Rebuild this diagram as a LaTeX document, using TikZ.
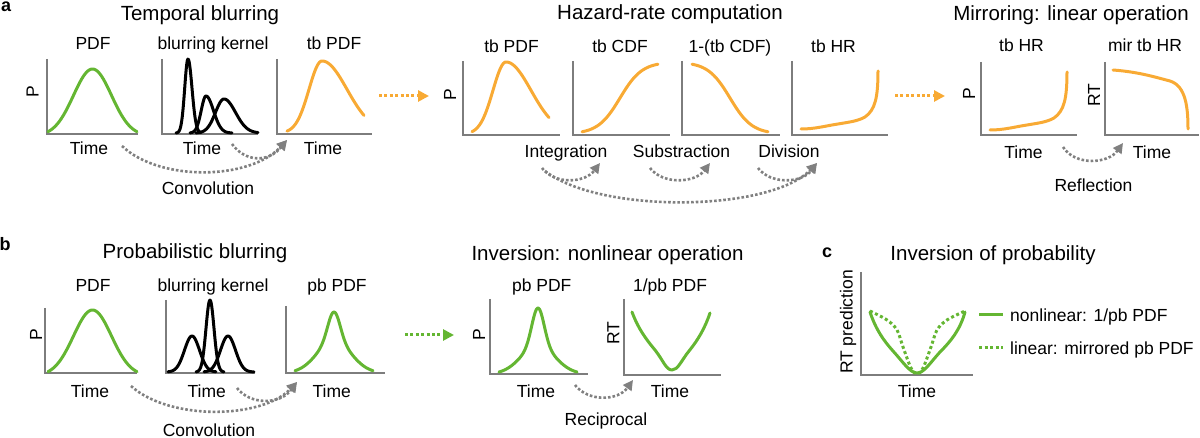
\documentclass[tikz,border=0pt]{standalone}
\usepackage{fontspec}
\setmainfont{Liberation Sans}
\usetikzlibrary{arrows.meta}
\definecolor{cgreen}{RGB}{100,182,50}
\definecolor{corange}{RGB}{248,170,52}
\definecolor{cgray}{RGB}{128,128,128}
\definecolor{caxis}{RGB}{125,125,125}
\begin{document}
\begin{tikzpicture}[x=1pt,y=-1pt,
  declare function={gs(\x,\m,\s)=exp(-0.5*((\x-\m)/\s)^2);
                    ags(\x,\m,\l,\r)=exp(-0.5*((\x-\m)/((\x<\m)?\l:\r))^2);},
  axis/.style={draw=caxis,line width=1.4pt},
  gcurve/.style={draw=cgreen,line width=3pt,line cap=round,line join=round},
  ocurve/.style={draw=corange,line width=3pt,line cap=round,line join=round},
  kcurve/.style={draw=black,line width=3pt,line cap=round,line join=round},
  gdots/.style={draw=cgreen,line width=3pt,dash pattern=on 3pt off 2.6pt},
  lbl/.style={font=\fontsize{17.5}{20}\selectfont,anchor=base,inner sep=0pt},
  ttl/.style={font=\fontsize{20.5}{24}\selectfont,anchor=base,inner sep=0pt},
  ylbl/.style={font=\fontsize{17.5}{20}\selectfont,rotate=90,inner sep=0pt},
  panel/.style={font=\fontsize{18}{20}\selectfont\bfseries,inner sep=0pt},
  op/.style={draw=cgray,line width=2.6pt,dash pattern=on 2.6pt off 2pt,
             -{Triangle[length=10pt,width=10pt]}},
  oarrow/.style={draw=corange,line width=3pt,dash pattern=on 3pt off 2.4pt,
             -{Triangle[length=11pt,width=11pt]}},
  garrow/.style={draw=cgreen,line width=3pt,dash pattern=on 3pt off 2.4pt,
             -{Triangle[length=11pt,width=11pt]}},
]
\useasboundingbox (0,0) rectangle (1200,438);

% ================= panel a =================
\node[panel,anchor=base west] (pa) at (1,12) {a};
\node[ttl] (ta1) at (200,21) {Temporal blurring};
\node[ttl] (ta2) at (670,20) {Hazard-rate computation};
\node[ttl] (ta3) at (1071,21) {Mirroring: linear operation};

% plot frames
\draw[axis] (47,59) -- (47,134) -- (138,134);
\draw[axis] (162,59) -- (162,134) -- (258,134);
\draw[axis] (277,59) -- (277,134) -- (372,134);
\draw[axis] (463,61) -- (463,135) -- (560,135);
\draw[axis] (573,61) -- (573,135) -- (670,135);
\draw[axis] (682,61) -- (682,135) -- (780,135);
\draw[axis] (792,61) -- (792,135) -- (888,135);
\draw[axis] (981,62) -- (981,135) -- (1077,135);
\draw[axis] (1105,62) -- (1105,135) -- (1199,135);

% labels
\node[lbl] (la1) at (93,50) {PDF};
\node[lbl] (la2) at (213,50) {blurring kernel};
\node[lbl] (la3) at (334,50) {tb PDF};
\node[lbl] (la4) at (511.5,53) {tb PDF};
\node[lbl] (la5) at (620,53) {tb CDF};
\node[lbl] (la6) at (730,53) {1-(tb CDF)};
\node[lbl] (la7) at (833.5,53) {tb HR};
\node[lbl] (la8) at (1021.5,52) {tb HR};
\node[lbl] (la9) at (1145,52) {mir tb HR};
\node[ylbl] (ya1) at (32.5,92) {P};
\node[ylbl] (ya4) at (450,95) {P};
\node[ylbl] (ya8) at (969,94) {P};
\node[ylbl] (ya9) at (1094,95) {RT};
\node[lbl] (xa1) at (89,155) {Time};
\node[lbl] (xa2) at (202,155) {Time};
\node[lbl] (xa3) at (323,155) {Time};
\node[lbl] (xa8) at (1023.5,159) {Time};
\node[lbl] (xa9) at (1152,159) {Time};
\node[lbl] (conva) at (208,195) {Convolution};
\node[lbl] (integ) at (566,158) {Integration};
\node[lbl] (subst) at (681.5,158) {Substraction};
\node[lbl] (divis) at (789,158) {Division};
\node[lbl] (refl) at (1093.5,192) {Reflection};

% curves
\draw[gcurve] plot[domain=48:137,samples=70] (\x,{132-63*(gs(\x,92.5,19)-0.06)/0.94});
\draw[kcurve] plot[domain=176:201,samples=50] (\x,{133-74*ags(\x,188,3.3,4)});
\draw[kcurve] plot[domain=190:232,samples=60] (\x,{133-37*ags(\x,206,4.8,7.5)});
\draw[kcurve] plot[domain=196:258,samples=60] (\x,{133-34*ags(\x,224,8.5,11.5)});
\draw[ocurve] plot[domain=287:364,samples=70] (\x,{133-72*ags(\x,322,13,25)});
\draw[ocurve] plot[domain=472:549,samples=70] (\x,{134-72*ags(\x,506,13,25)});
\draw[ocurve] plot[domain=582:658,samples=60] (\x,{134-72/(1+exp(-(\x-620)/11))});
\draw[ocurve] plot[domain=692:768,samples=60] (\x,{134-72/(1+exp((\x-730)/11))});
\draw[ocurve] (801,129) .. controls (815,129) and (825,126) .. (838,124)
   .. controls (850,122) and (858,121) .. (865,117)
   .. controls (875,110) and (878,98) .. (878,71);
\draw[ocurve] (990,130) .. controls (1004,130) and (1014,127) .. (1027,125)
   .. controls (1039,123) and (1047,122) .. (1054,118)
   .. controls (1064,111) and (1067,99) .. (1067,72);
\draw[ocurve] (1113,70) .. controls (1140,72) and (1158,78) .. (1170,81)
   .. controls (1186,86) and (1188,108) .. (1188,129);

% operation arrows
\coordinate (a1s) at (122,146);
\coordinate (a2s) at (232,144);
\coordinate (a3e) at (287,140);
\draw[op] (a1s) .. controls (160,182) and (250,180) .. (a3e);
\draw[op] (a2s) .. controls (245,162) and (268,163) .. (a3e);
\coordinate (i1s) at (542,168);
\coordinate (i1e) at (600,163);
\coordinate (i2s) at (650,168);
\coordinate (i2e) at (710,163);
\coordinate (i3s) at (758,168);
\coordinate (i3e) at (817,163);
\coordinate (ibs) at (545,171);
\draw[op] (i1s) .. controls (555,185) and (585,183) .. (i1e);
\draw[op] (i2s) .. controls (663,185) and (695,183) .. (i2e);
\draw[op] (i3s) .. controls (771,185) and (802,183) .. (i3e);
\draw[op] (ibs) .. controls (600,214) and (770,212) .. (i3e);
\coordinate (r1s) at (1063,147);
\coordinate (r1e) at (1123,143);
\draw[op] (r1s) .. controls (1075,166) and (1108,164) .. (r1e);

\coordinate (o1s) at (379,96);
\coordinate (o1e) at (429,96);
\coordinate (o2s) at (895,96);
\coordinate (o2e) at (945,96);
\draw[oarrow] (o1s) -- (o1e);
\draw[oarrow] (o2s) -- (o2e);

% ================= panel b =================
\node[panel] (pb) at (5,244) {b};
\node[ttl] (tb1) at (195,259) {Probabilistic blurring};
\node[ttl] (tb2) at (607.5,261) {Inversion: nonlinear operation};

\draw[axis] (45,308) -- (45,373) -- (137,373);
\draw[axis] (166,300) -- (166,373) -- (255,373);
\draw[axis] (286,306) -- (286,373) -- (385,373);
\draw[axis] (490,299) -- (490,374) -- (588,374);
\draw[axis] (624,299) -- (624,375) -- (721,375);

\node[lbl] (lb1) at (93,292) {PDF};
\node[lbl] (lb2) at (213,292) {blurring kernel};
\node[lbl] (lb3) at (337,292) {pb PDF};
\node[lbl] (lb4) at (541.7,292) {pb PDF};
\node[lbl] (lb5) at (670,292) {1/pb PDF};
\node[ylbl] (yb1) at (36,335) {P};
\node[ylbl] (yb4) at (479,335) {P};
\node[ylbl] (yb5) at (613.3,333) {RT};
\node[lbl] (xb1) at (90,397) {Time};
\node[lbl] (xb2) at (206.7,397) {Time};
\node[lbl] (xb3) at (331.7,397) {Time};
\node[lbl] (xb4) at (536,397) {Time};
\node[lbl] (xb5) at (670,397) {Time};
\node[lbl] (convb) at (209,436) {Convolution};
\node[lbl] (recip) at (606,425) {Reciprocal};

\draw[gcurve] plot[domain=48:137,samples=70] (\x,{372-62*(gs(\x,92.5,19)-0.06)/0.94});
\draw[kcurve] plot[domain=168:216,samples=60] (\x,{372-36*gs(\x,192,7.5)});
\draw[kcurve] plot[domain=196:224,samples=60] (\x,{372-72*gs(\x,210,4)});
\draw[kcurve] plot[domain=204:254,samples=60] (\x,{372-36*gs(\x,228,7.5)});
\draw[gcurve] plot[domain=295:373,samples=90] (\x,{373-(32*gs(\x,334,17)+29*gs(\x,334,6))});
\draw[gcurve] plot[domain=499:577,samples=90] (\x,{374-(28*gs(\x,538,17)+38*gs(\x,538,6))});
\draw[gcurve] (632,312) .. controls (638,328) and (645,338) .. (655,350)
   .. controls (663,360) and (666,370) .. (672,370)
   .. controls (678,370) and (681,361) .. (689,351)
   .. controls (698,340) and (705,328) .. (710,313);

\coordinate (b1s) at (131,386);
\coordinate (b2s) at (237,388);
\coordinate (b3e) at (297,382);
\draw[op] (b1s) .. controls (170,421) and (262,419) .. (b3e);
\draw[op] (b2s) .. controls (250,405) and (280,405) .. (b3e);
\coordinate (rcs) at (575,385);
\coordinate (rce) at (633,380);
\draw[op] (rcs) .. controls (588,402) and (618,401) .. (rce);
\coordinate (g1s) at (405,335);
\coordinate (g1e) at (454,335);
\draw[garrow] (g1s) -- (g1e);

% ================= panel c =================
\node[panel] (pc) at (827,253) {c};
\node[ttl] (tc) at (993,261) {Inversion of probability};
\draw[axis] (861,272) -- (861,375) -- (973,375);
\node[ylbl] (yc) at (848,322) {RT prediction};
\node[lbl] (xc) at (917,397) {Time};
\draw[gcurve] (870,312) .. controls (876,330) and (884,341) .. (893,351)
   .. controls (903,362) and (910,373) .. (917,373)
   .. controls (924,373) and (930,363) .. (940,352)
   .. controls (951,341) and (960,330) .. (965,312);
\draw[gdots] plot[smooth,tension=0.55] coordinates {(870,311) (887,320) (897,330) (903,347)
   (911,368) (917,374) (923,368) (931,347) (937,330) (947,320) (965,311)};
\coordinate (lg1s) at (979,315);
\coordinate (lg1e) at (1003,315);
\coordinate (lg2s) at (979,348);
\coordinate (lg2e) at (1003,348);
\draw[draw=cgreen,line width=3pt] (lg1s) -- (lg1e);
\draw[gdots] (lg2s) -- (lg2e);
\node[lbl,anchor=base west] (lgt1) at (1010,322) {nonlinear: 1/pb PDF};
\node[lbl,anchor=base west] (lgt2) at (1010,355) {linear: mirrored pb PDF};
\end{tikzpicture}
\end{document}
